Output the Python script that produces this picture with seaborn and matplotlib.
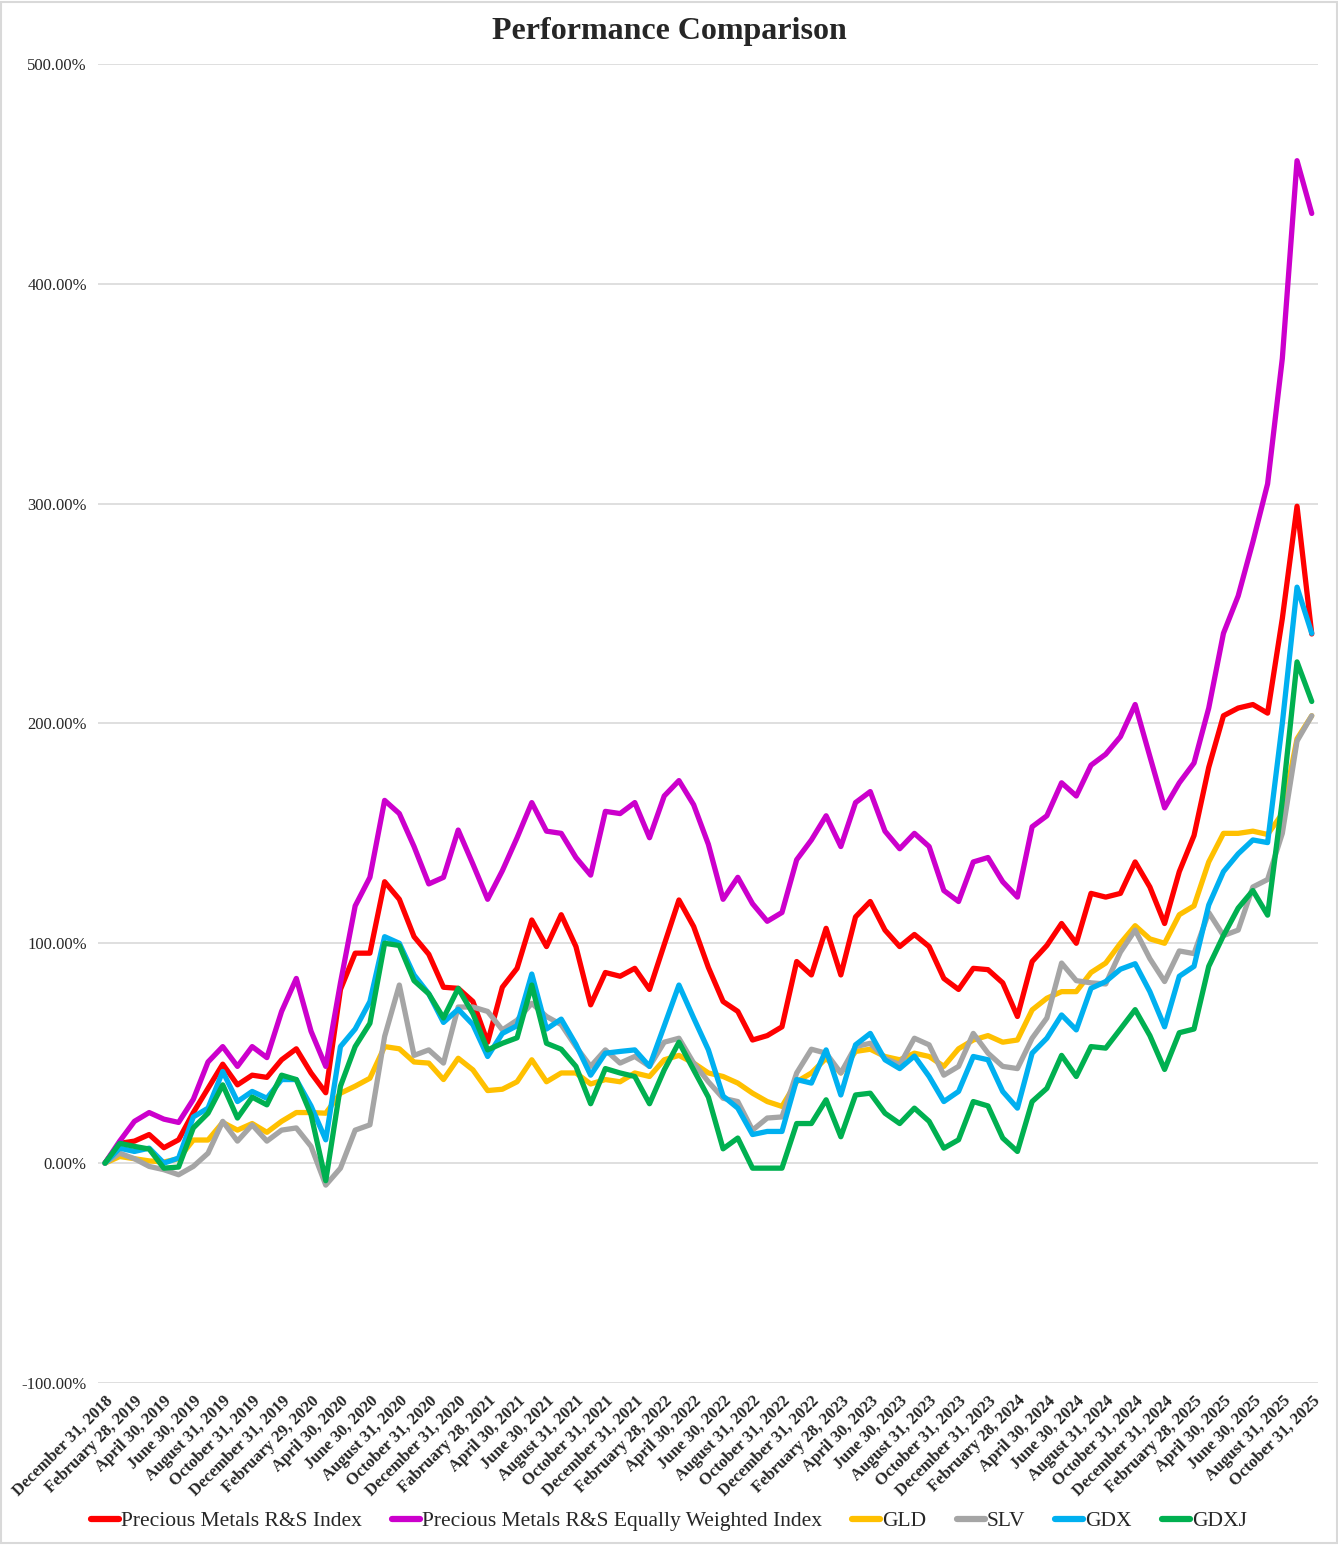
import pandas as pd
import matplotlib
matplotlib.use("Agg")
import matplotlib.pyplot as plt
from matplotlib.lines import Line2D
from matplotlib.patches import Rectangle
import seaborn as sns

# Monthly cumulative returns (%) from December 2018 to October 2025
pm_index = [0, 9, 10, 13, 7, 10.6, 23, 34, 45, 35.6, 40, 39, 47, 52, 41, 32, 79, 95.5, 95.5, 128,
            120, 103, 95, 80, 79.5, 73.5, 55, 80, 88.6, 110.6, 98.5, 113, 98.5, 72, 86.7, 85, 88.6, 79, 99.4, 119.7,
            107.6, 89, 73.5, 69, 56, 58, 62, 91.7, 85.6, 106.8, 85.6, 112, 119, 106, 98.5, 104, 98.5, 84, 79, 88.6,
            88, 82, 66.7, 91.7, 99, 109, 100, 122.7, 121, 122.7, 137, 125.6, 109, 132.6, 149, 180, 203.5, 207, 208.6, 204.7,
            247.7, 298.8, 240.7]
pm_equal = [0, 10, 19, 23, 20, 18.5, 29, 46, 53, 44, 53, 48, 69, 84, 60, 44, 82, 117, 130, 165,
            159, 144, 127, 130, 151.5, 136, 120, 133, 148, 164, 151, 150, 139, 131, 160, 159, 164, 148, 167, 174,
            163, 145, 120, 130, 118, 110, 114, 138, 147, 158, 144, 164, 169, 151, 143, 150, 144, 124, 119, 137,
            139, 128, 121, 153, 158, 173, 167, 181, 186, 194, 208.6, 185, 161.6, 173, 182, 207, 241, 258, 282.6, 309,
            366, 456, 432]
gld = [0, 3, 2, 1, 0.5, 2, 10.5, 10.5, 18.5, 15, 18, 14, 19, 23, 23, 22.7, 31.8, 35, 38.6, 53,
       52, 46, 45.5, 38, 47.7, 42.4, 33, 33.6, 37, 47, 37, 41, 41, 36, 38, 37, 41, 39.4, 47, 49,
       45.5, 41, 39.4, 36.4, 31.8, 28, 25.8, 37, 41, 47.7, 41, 50.8, 51.8, 48.5, 47, 50, 48.5, 44, 52, 56,
       58, 55, 56, 69.7, 75, 78, 78, 86.7, 91, 100, 108, 102, 100, 113, 117, 137, 150, 150, 151, 149.5,
       159, 193, 203.5]
slv = [0, 4.5, 2, -1.5, -3, -5.3, -1.5, 4.5, 19, 10, 17.4, 10, 15, 16, 7.6, -10, -2.3, 15, 17.4, 57.6,
       81, 49, 51.5, 45.5, 71, 71, 69, 60.6, 65, 72.7, 66.7, 63, 53, 44, 51.5, 45.5, 48.5, 44, 55, 56.8,
       45.5, 37, 29.5, 28, 15, 20.5, 21, 41, 51.8, 50, 41, 53, 54.5, 47.7, 44.7, 56.8, 53.8, 40, 44, 59,
       50, 44, 43, 56.8, 66, 91, 83, 82, 81.5, 96, 106, 93, 82.6, 96.5, 95.3, 114, 103.5, 106, 125.6, 129,
       150, 192, 203.5]
gdx = [0, 6.8, 5.3, 6.8, 0, 2.3, 21, 25, 41.7, 28, 32.6, 29.5, 38, 38, 26, 10.6, 53, 61, 73.5, 103,
       100, 85.6, 77, 64, 70, 63, 48.5, 59, 62.5, 86, 61, 65.5, 54, 40, 50, 50.8, 51.5, 44, 62.4, 81,
       66, 51.5, 30.5, 25, 13, 14.4, 14.4, 38, 36.4, 51.5, 31, 53.8, 59, 47, 43, 48.7, 39.4, 28, 32.6, 48.5,
       47, 32.6, 25, 50, 56.8, 67.4, 60.6, 79.5, 82.6, 88.2, 90.7, 78, 62, 85, 89.5, 117.4, 132.6, 140.7, 147, 145.8,
       200, 262, 241]
gdxj = [0, 9, 7.6, 6.4, -2.3, -1.8, 16, 22.7, 35.6, 20.5, 30, 26.5, 40, 38, 22, -8, 35, 53, 63.6, 100,
        99, 83, 77, 66, 79.5, 68, 51.5, 54.5, 57, 81, 54.5, 51.8, 44, 27, 43, 41, 39.4, 27, 42.4, 55,
        42.4, 30, 6.5, 11.4, -2.3, -2.3, -2.3, 18, 18, 28.8, 12, 31, 31.8, 22.7, 18, 25, 19, 6.8, 10.6, 28,
        26, 11.4, 5.3, 28, 34, 49, 39.4, 53, 52.3, 61, 69.8, 58, 42.6, 59.3, 61, 89.5, 103.5, 116, 124, 112.8,
        165, 228, 210]

series_names = ["Precious Metals R&S Index", "Precious Metals R&S Equally Weighted Index",
                "GLD", "SLV", "GDX", "GDXJ"]
series_colors = ["#FF0000", "#CC00CC", "#FFC000", "#A5A5A5", "#00B0F0", "#00B050"]

# Every other month-end is labelled on the x axis (typo kept as in the source chart)
tick_labels = [
    "December 31, 2018", "February 28, 2019", "April 30, 2019", "June 30, 2019", "August 31, 2019",
    "October 31, 2019", "December 31, 2019", "February 29, 2020", "April 30, 2020", "June 30, 2020",
    "August 31, 2020", "October 31, 2020", "December 31, 2020", "Fabruary 28, 2021", "April 30, 2021",
    "June 30, 2021", "August 31, 2021", "October 31, 2021", "December 31, 2021", "February 28, 2022",
    "April 30, 2022", "June 30, 2022", "August 31, 2022", "October 31, 2022", "December 31, 2022",
    "February 28, 2023", "April 30, 2023", "June 30, 2023", "August 31, 2023", "October 31, 2023",
    "December 31, 2023", "February 28, 2024", "April 30, 2024", "June 30, 2024", "August 31, 2024",
    "October 31, 2024", "December 31, 2024", "February 28, 2025", "April 30, 2025", "June 30, 2025",
    "August 31, 2025", "October 31, 2025",
]
y_ticks = [-100, 0, 100, 200, 300, 400, 500]

# Build a long-form table for seaborn
wide_df = pd.DataFrame(dict(zip(series_names, [pm_index, pm_equal, gld, slv, gdx, gdxj])))
wide_df["month"] = range(len(wide_df))
long_df = wide_df.melt(id_vars="month", var_name="series", value_name="return")

sns.set_theme(style="white")
plt.rcParams["font.family"] = ["Liberation Serif", "DejaVu Serif"]

fig = plt.figure(figsize=(13.38, 15.45), dpi=100)
ax = fig.add_axes([0.0732, 0.1049, 0.9118, 0.8537])

sns.lineplot(data=long_df, x="month", y="return", hue="series", hue_order=series_names,
             palette=series_colors, linewidth=3.8, errorbar=None, legend=False,
             solid_capstyle="round", solid_joinstyle="round", ax=ax)

ax.set_ylim(-100, 500)
ax.set_xlim(-0.48, len(wide_df) - 1 + 0.42)
ax.set_yticks(y_ticks)
ax.set_yticklabels([f"{v:.2f}%" for v in y_ticks], fontsize=12)
ax.set_xticks(range(0, len(wide_df), 2))
ax.set_xticklabels(tick_labels, rotation=45, ha="right", rotation_mode="anchor",
                   fontsize=12, fontweight="bold")
ax.tick_params(axis="both", length=0)
ax.tick_params(axis="y", pad=8)
ax.tick_params(axis="x", pad=7)
ax.set_xlabel("")
ax.set_ylabel("")
ax.yaxis.grid(True, color="#D9D9D9", linewidth=1.2)
ax.xaxis.grid(False)
ax.set_axisbelow(True)
for spine in ax.spines.values():
    spine.set_visible(False)

fig.text(0.5, 1 - 31 / 1545, "Performance Comparison", ha="center", va="center",
         fontsize=23, fontweight="bold")

handles = [Line2D([0], [0], color=c, linewidth=4.5, solid_capstyle="round") for c in series_colors]
fig.legend(handles, series_names, loc="center", bbox_to_anchor=(0.5, 1 - 1521 / 1545), ncol=6,
           frameon=False, fontsize=15.5, handlelength=1.3, handletextpad=0.1, columnspacing=1.4)

fig.patches.append(Rectangle((0.001, 0.001), 0.998, 0.998, transform=fig.transFigure,
                             fill=False, edgecolor="#D9D9D9", linewidth=1.5))

fig.savefig("out.png", dpi=100, facecolor="white")
